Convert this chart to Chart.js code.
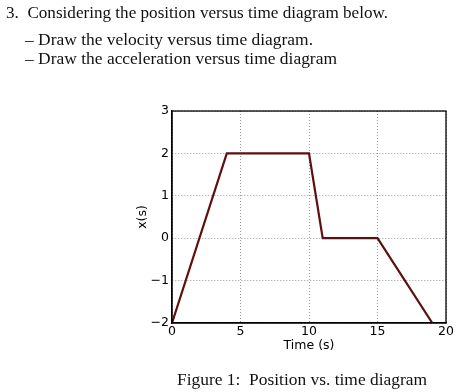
<!DOCTYPE html>
<html>
<head>
<meta charset="utf-8">
<script src="https://cdn.jsdelivr.net/npm/chart.js@4/dist/chart.umd.min.js"></script>
<style>
  html, body { margin: 0; padding: 0; background: #fff; }
  #wrap { position: relative; width: 458px; height: 392px; overflow: hidden; }
  #c { position: absolute; left: 0; top: 0; }
  .t { position: absolute; font-family: "Liberation Serif", "DejaVu Serif", serif; font-size: 16.5px; color: #111; white-space: nowrap; line-height: 1; }
</style>
</head>
<body>
<div id="wrap">
  <canvas id="c" width="458" height="392"></canvas>
  <div class="t" id="l1" style="left:6px; top:5px;">3.&nbsp; Considering the position versus time diagram below.</div>
  <div class="t" id="l2" style="left:25px; top:32px;">– Draw the velocity versus time diagram.</div>
  <div class="t" id="l3" style="left:25px; top:51px;">– Draw the acceleration versus time diagram</div>
  <div class="t" id="cap" style="left:177px; top:372px;">Figure 1:&nbsp; Position vs. time diagram</div>
</div>
<script>
// Data
const times = [0, 4, 10, 11, 15, 19];
const positions = [-2, 2, 2, 0, 0, -2];
const xTicks = [0, 5, 10, 15, 20];
const xTickLabels = ['0', '5', '10', '15', '20'];
const yTicks = [-2, -1, 0, 1, 2, 3];
const yTickLabels = ['\u22122', '\u22121', '0', '1', '2', '3'];

// fit text lines to measured widths
const targets = { l1: 382, l2: 288, l3: 312, cap: 250 };
for (const id in targets) {
  const el = document.getElementById(id);
  const w = el.getBoundingClientRect().width;
  el.style.transformOrigin = 'left top';
  el.style.transform = 'scaleX(' + (targets[id] / w) + ')';
}

const pts = times.map((t, i) => ({ x: t, y: positions[i] }));

const frame = {
  id: 'frame',
  afterDraw(chart) {
    const { ctx, chartArea: a } = chart;
    ctx.save();
    ctx.strokeStyle = '#000';
    ctx.lineWidth = 1.3;
    ctx.strokeRect(a.left, a.top, a.right - a.left, a.bottom - a.top);
    ctx.restore();
  }
};

const tickFont = { family: 'DejaVu Sans', size: 12.5 };

new Chart(document.getElementById('c'), {
  type: 'scatter',
  data: {
    datasets: [{
      data: pts,
      showLine: true,
      borderColor: '#5e0f0f',
      borderWidth: 2.2,
      pointRadius: 0,
      tension: 0
    }]
  },
  options: {
    responsive: false,
    animation: false,
    layout: { padding: { left: 135, right: 12, top: 111, bottom: 38.5 } },
    plugins: { legend: { display: false }, tooltip: { enabled: false } },
    scales: {
      x: {
        type: 'linear', min: 0, max: 20,
        afterBuildTicks(s) { s.ticks = xTicks.map(v => ({ value: v })); },
        afterFit(s) { s.height = 30.5; },
        ticks: {
          color: '#000', padding: 1, maxRotation: 0,
          font: tickFont,
          callback: (v) => xTickLabels[xTicks.indexOf(v)]
        },
        grid: { color: '#999', lineWidth: 1, drawTicks: false },
        border: { display: true, color: '#000', width: 1.3, dash: [1, 2] },
        title: { display: true, text: 'Time (s)', color: '#000', padding: 0, font: tickFont }
      },
      y: {
        type: 'linear', min: -2, max: 3,
        afterBuildTicks(s) { s.ticks = yTicks.map(v => ({ value: v })); },
        afterFit(s) { s.width = 37; },
        ticks: {
          color: '#000', padding: 3,
          font: tickFont,
          callback: (v) => yTickLabels[yTicks.indexOf(v)]
        },
        grid: { color: '#999', lineWidth: 1, drawTicks: false },
        border: { display: true, color: '#000', width: 1.3, dash: [1, 2] },
        title: { display: true, text: 'x(s)', color: '#000', padding: 0, font: tickFont }
      }
    }
  },
  plugins: [frame]
});
</script>
</body>
</html>
